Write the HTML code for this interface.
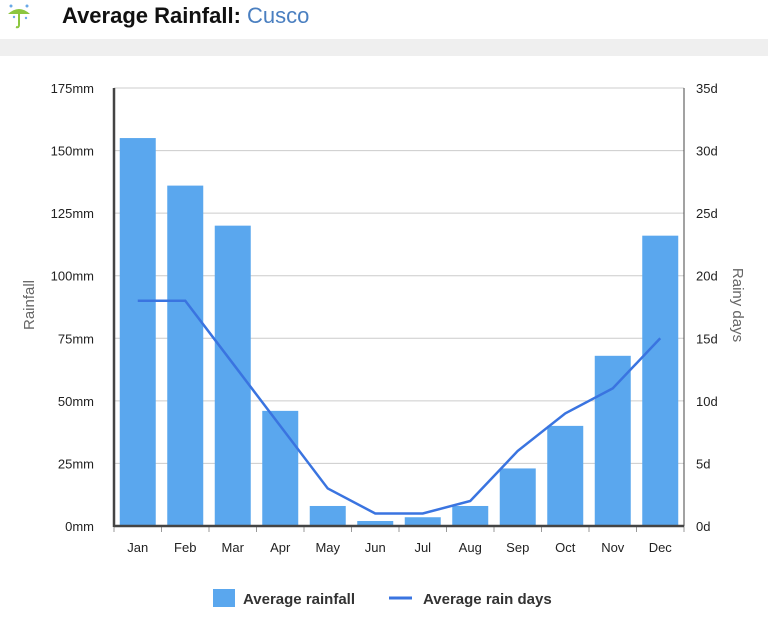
<!DOCTYPE html>
<html><head><meta charset="utf-8"><style>
body{margin:0;width:768px;height:634px;background:#fff;font-family:"Liberation Sans",sans-serif;overflow:hidden;position:relative}
#title{position:absolute;left:62px;top:3px;font-size:22px;font-weight:bold;color:#111}
#title span{font-weight:normal;color:#4a7fc0}
#band{position:absolute;left:0;top:39px;width:768px;height:17px;background:#efefef}
svg{position:absolute;left:0;top:0}
</style></head><body>
<svg width="768" height="634" id="chart">
 <g>
  <path d="M8 14 Q19 4 30 14 Z" fill="#8cc63f"/>
  <line x1="19" y1="14" x2="19" y2="25" stroke="#8cc63f" stroke-width="2"/>
  <path d="M19 25 q0 3 -3 2" stroke="#8cc63f" stroke-width="2" fill="none"/>
  <circle cx="11" cy="6" r="1.5" fill="#6aa9e8"/><circle cx="27" cy="6" r="1.5" fill="#6aa9e8"/><circle cx="14" cy="17" r="1.2" fill="#6aa9e8"/><circle cx="26" cy="18" r="1.2" fill="#6aa9e8"/>
 </g>
</svg>
<div id="title">Average Rainfall: <span>Cusco</span></div>
<div id="band"></div>
<script>
const months=["Jan","Feb","Mar","Apr","May","Jun","Jul","Aug","Sep","Oct","Nov","Dec"];
const rainfall=[155,136,120,46,8,2,3.5,8,23,40,68,116];
const rainDays=[18,18,13,8,3,1,1,2,6,9,11,15];
const leftTicks=[0,25,50,75,100,125,150,175];
const rightTicks=[0,5,10,15,20,25,30,35];
const NS="http://www.w3.org/2000/svg";
const svg=document.getElementById('chart');
const L=114,R=684,T=88,B=526;
const yL=v=>B-(v/175)*(B-T);
const yR=v=>B-(v/35)*(B-T);
const bw=(R-L)/months.length;
const xC=i=>L+bw*(i+0.5);
function mk(tag,attrs,parent){const e=document.createElementNS(NS,tag);for(const k in attrs)e.setAttribute(k,attrs[k]);(parent||svg).appendChild(e);return e;}
leftTicks.forEach((v,i)=>{
 const g=mk('line',{x1:L,x2:R,y1:yL(v),y2:yL(v),stroke:'#ccc','stroke-width':1});
 
 
 const t=mk('text',{x:L-20,y:yL(v)+5,'text-anchor':'end','font-size':13,fill:'#222'});
 t.textContent=v+'mm';
 
 
});
rightTicks.forEach(v=>{
 const t=mk('text',{x:R+12,y:yR(v)+5,'font-size':13,fill:'#222'});
 t.textContent=v+'d';
 
 
});
rainfall.forEach((v,i)=>{
 const r=mk('rect',{x:xC(i)-18,y:yL(v),width:36,height:B-yL(v),fill:'#5aa7ee'});
 
 
});
months.forEach((m,i)=>{
 const t=mk('text',{x:xC(i),y:B+26,'text-anchor':'middle','font-size':13,fill:'#222'});
 t.textContent=m;
 
 
});
for(let i=0;i<=months.length;i++){mk('line',{x1:L+bw*i,x2:L+bw*i,y1:B,y2:B+6,stroke:'#999'});}
mk('line',{x1:L,x2:L,y1:T,y2:B+1,stroke:'#444','stroke-width':2.5});
mk('line',{x1:R,x2:R,y1:T,y2:B,stroke:'#444','stroke-width':1});
mk('line',{x1:L,x2:R,y1:B,y2:B,stroke:'#444','stroke-width':2.5});
const pl=mk('polyline',{points:rainDays.map((v,i)=>xC(i)+','+yR(v)).join(' '),fill:'none',stroke:'#3a74e0','stroke-width':2.5});


const yt=mk('text',{x:0,y:0,'font-size':15,fill:'#666','text-anchor':'middle',transform:'translate(34,305) rotate(-90)'});
yt.textContent='Rainfall';


const yt2=mk('text',{x:0,y:0,'font-size':15,fill:'#666','text-anchor':'middle',transform:'translate(733,305) rotate(90)'});
yt2.textContent='Rainy days';


const lg1=mk('rect',{x:213,y:589,width:22,height:18,fill:'#5aa7ee'});


const lt1=mk('text',{x:243,y:604,'font-size':15,'font-weight':'bold',fill:'#333'});
lt1.textContent='Average rainfall';


const lg2=mk('line',{x1:389,x2:412,y1:598,y2:598,stroke:'#3a74e0','stroke-width':3});


const lt2=mk('text',{x:423,y:604,'font-size':15,'font-weight':'bold',fill:'#333'});
lt2.textContent='Average rain days';


</script>
</body></html>
